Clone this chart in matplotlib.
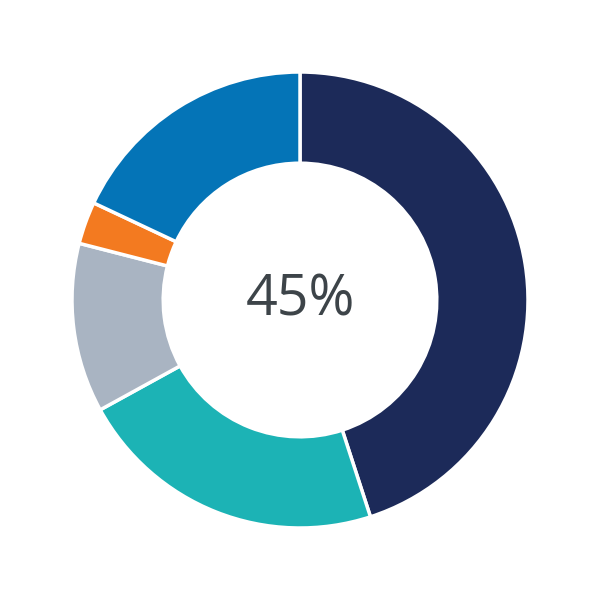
import matplotlib
matplotlib.use("Agg")
import matplotlib.pyplot as plt

labels = ["Navy", "Teal", "Gray", "Orange", "Blue"]
values = [45, 22, 12, 3, 18]
colors = ["#1c2a59", "#1cb3b5", "#a9b4c2", "#f37a20", "#0474b7"]
center_text = "45%"

fig = plt.figure(figsize=(6, 6), dpi=100)
ax = fig.add_axes([0, 0, 1, 1])
ax.pie(values, colors=colors, startangle=90, counterclock=False,
       radius=1.0, wedgeprops=dict(width=0.4, edgecolor="white", linewidth=2.5))
ax.text(0, -0.005, center_text, ha="center", va="center", fontsize=40,
        fontweight="normal", color="#3d4449", family=["Open Sans", "DejaVu Sans"])
lim = 300 / 228
ax.set_xlim(-lim, lim)
ax.set_ylim(-lim, lim)
ax.set_aspect("equal")
ax.axis("off")
fig.savefig("out.png", dpi=100, facecolor="white")
